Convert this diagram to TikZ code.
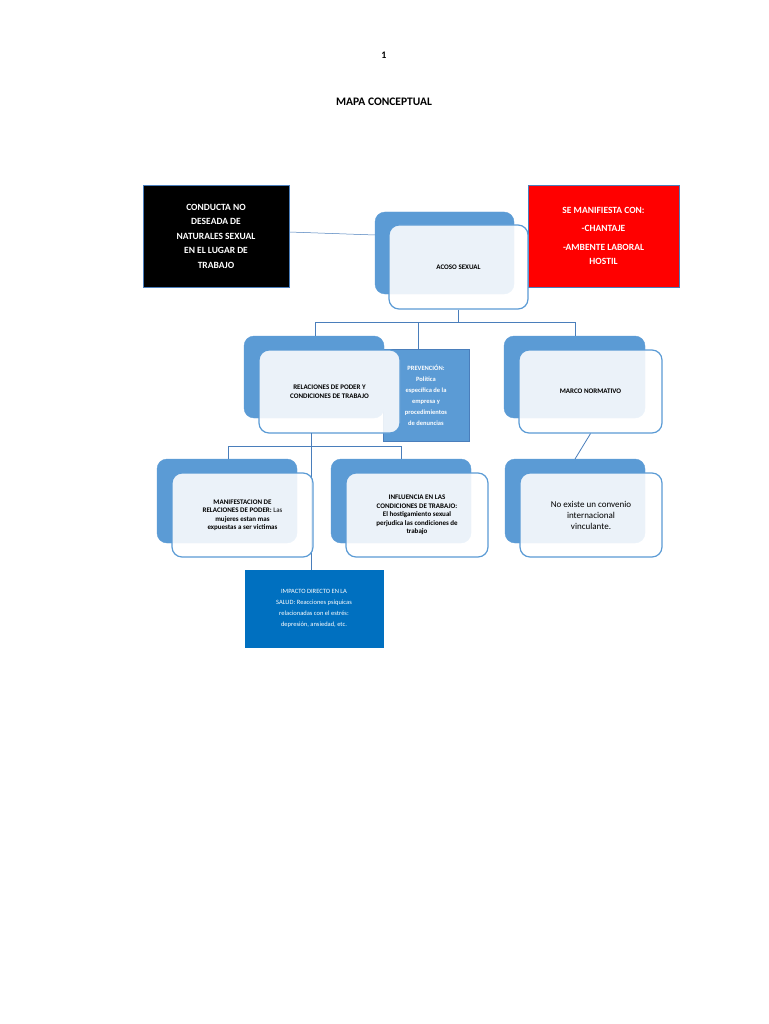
\documentclass[tikz,border=0pt]{standalone}
\usepackage{fontspec}
\setmainfont{Carlito}
\definecolor{bk}{HTML}{5B9BD5}
\definecolor{bd}{HTML}{5B9BD5}
\definecolor{ln}{HTML}{4A7EBB}
\definecolor{imp}{HTML}{0070C0}
\definecolor{red0}{HTML}{FF0000}
\begin{document}
\begin{tikzpicture}[x=1pt,y=-1pt,
  backbox/.style={fill=bk,draw=bk,rounded corners=10pt},
  frontbox/.style={draw=bd,line width=1.2pt,fill=white,fill opacity=0.88,text opacity=1,rounded corners=10pt,align=center,font=\fontsize{7}{8.5}\selectfont\bfseries},
  conn/.style={draw=ln,line width=0.8pt}]
\useasboundingbox (0,0) rectangle (768,1024);
\node (pg) at (384,55) {\fontsize{10}{12}\selectfont\bfseries 1};
\node (title) at (384,102) {\fontsize{11.5}{14}\selectfont\bfseries MAPA CONCEPTUAL};
% black box
\node[draw=ln,fill=black,text=white,minimum width=146pt,minimum height=102pt,align=center,font=\fontsize{9.5}{14.5}\selectfont\bfseries] (cond) at (216,236) {CONDUCTA NO\\DESEADA DE\\NATURALES SEXUAL\\EN EL LUGAR DE\\TRABAJO};
\node[draw=ln,fill=red0,text=white,minimum width=151pt,minimum height=102pt,align=center,font=\fontsize{9.5}{14.5}\selectfont\bfseries] (man) at (603.5,236) {SE MANIFIESTA CON:\\[4pt]-CHANTAJE\\[4pt]-AMBENTE LABORAL\\HOSTIL};
% acoso
\draw[backbox] (375,212) rectangle (514,294);
\coordinate (acb) at (375,235);
\draw[conn,line width=0.5pt] (cond.east |- 0,232) -- (acb);
\node[frontbox,minimum width=139pt,minimum height=84pt] (acoso) at (458.5,267) {ACOSO SEXUAL};
% prevencion
\node[fill=bk,draw=ln,minimum width=86pt,minimum height=92pt,align=center,text=white,font=\fontsize{6.5}{11}\selectfont\bfseries] (prev) at (426,395) {PREVENCIÓN:\\Política\\específica de la\\empresa y\\procedimientos\\de denuncias};
% second level
\draw[backbox] (244,336) rectangle (384,418);
\node[frontbox,minimum width=141pt,minimum height=83pt] (rel) at (329.5,391.5) {RELACIONES DE PODER Y\\CONDICIONES DE TRABAJO};
\draw[backbox] (504,336) rectangle (645,418);
\node[frontbox,minimum width=143pt,minimum height=83pt] (marco) at (590.5,391.5) {MARCO NORMATIVO};
\coordinate (j1) at (458,322);
\draw[conn] (acoso.south -| j1) -- (j1);
\draw[conn] (315,336) |- (575,322) -- (575,336);
\draw[conn] (418,322) -- (prev.north -| 418,0);
% third level
\draw[backbox] (157,459) rectangle (297,543);
\draw[backbox] (331,459) rectangle (471,543);
\draw[backbox] (505,459) rectangle (645,543);
\draw[conn] (228,459) |- (401,446) -- (401,459);
\draw[conn] (311,433) -- (311,570);
\node[frontbox,minimum width=141pt,minimum height=84pt] (mani) at (242.5,515) {MANIFESTACION DE\\RELACIONES DE PODER: \mdseries Las\\mujeres estan mas\\expuestas a ser victimas};
\node[frontbox,minimum width=142pt,minimum height=84pt] (infl) at (417,515) {INFLUENCIA EN LAS\\CONDICIONES DE TRABAJO:\\El hostigamiento sexual\\perjudica las condiciones de\\trabajo};
\node[frontbox,minimum width=142pt,minimum height=84pt,font=\fontsize{9}{11}\selectfont] (noex) at (591,515) {No existe un convenio\\internacional\\vinculante.};
\draw[conn] (marco.south) -- (575,459);
\node[fill=imp,draw=imp,minimum width=138pt,minimum height=77pt,align=center,text=white,font=\fontsize{6.5}{11}\selectfont] (imp) at (314,608.5) {IMPACTO DIRECTO EN LA\\SALUD: Reacciones psíquicas\\relacionadas con el estrés:\\depresión, ansiedad, etc.};
\end{tikzpicture}
\end{document}
